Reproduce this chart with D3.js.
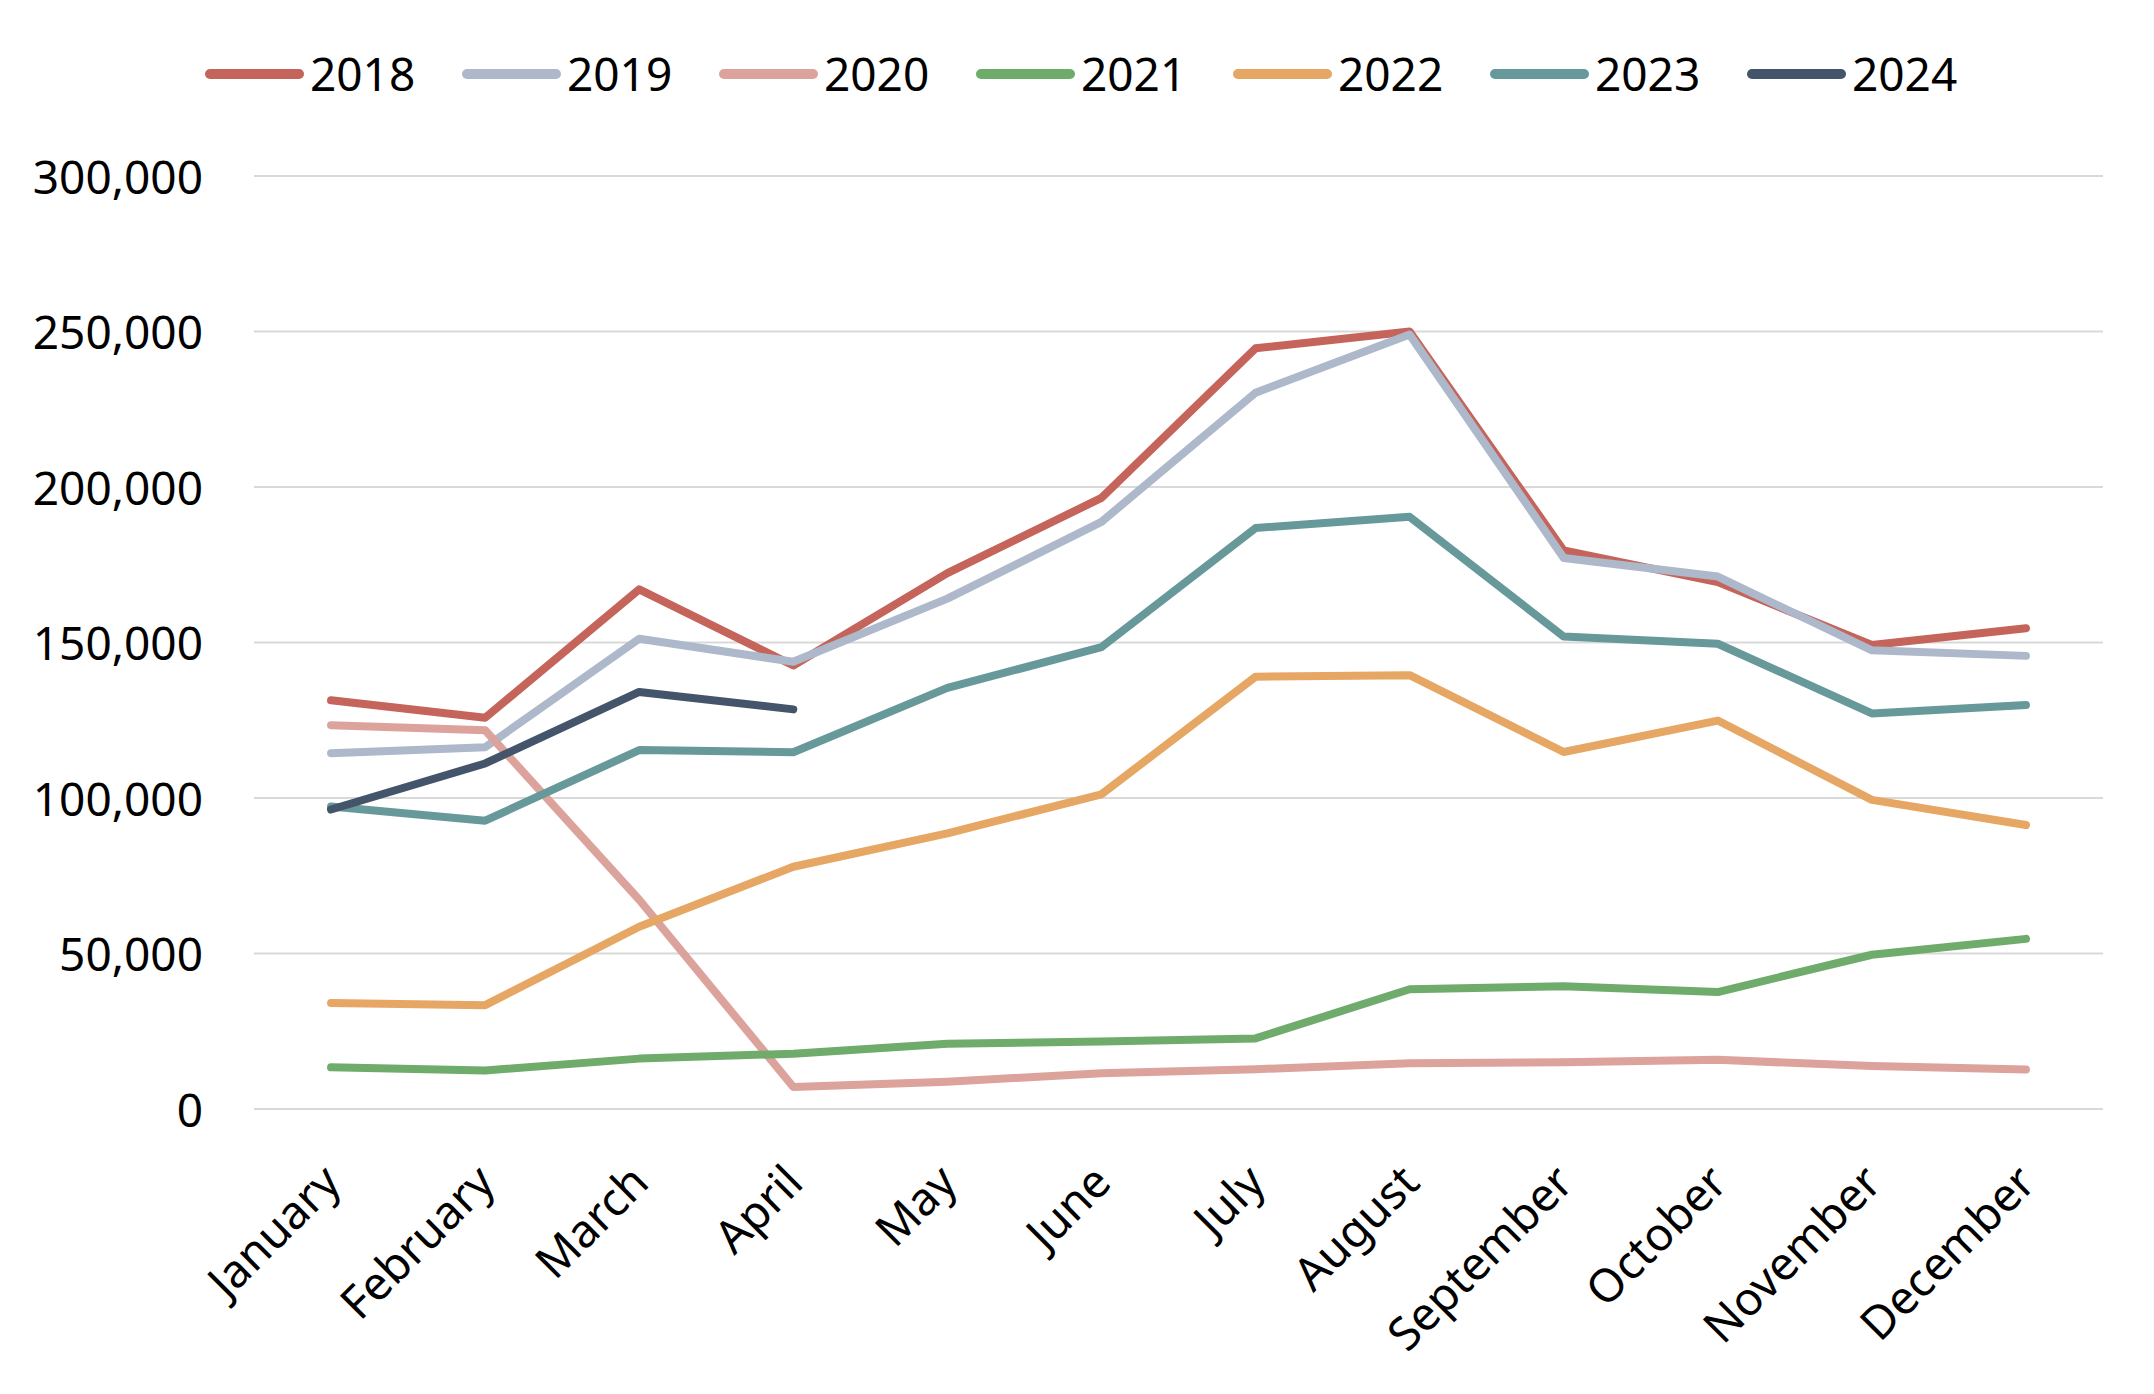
<!DOCTYPE html>
<html>
<head>
<meta charset="utf-8">
<title>Monthly totals 2018-2024</title>
<script src="https://d3js.org/d3.v7.min.js"></script>
<style>
  body { margin: 0; background: #fff; }
  text { font-family: "Noto Sans", "Open Sans", sans-serif; fill: #000; }
</style>
</head>
<body>
<div id="chart"></div>
<script>
const months = ["January", "February", "March", "April", "May", "June", "July",
  "August", "September", "October", "November", "December"];
const years = ["2018", "2019", "2020", "2021", "2022", "2023", "2024"];
const colors = ["#C4645A", "#ADB8CA", "#DCA29C", "#6FAB6B", "#E6A664", "#67999A", "#44546A"];
const yTicks = [0, 50000, 100000, 150000, 200000, 250000, 300000];

const v2018 = [131400, 125800, 167100, 142600, 172300, 196500, 244600, 250000, 179600, 169400, 149200, 154600];
const v2019 = [114400, 116300, 151200, 143800, 164100, 188800, 230300, 249000, 177200, 171200, 147500, 145700];
const v2020 = [123400, 121800, 67300, 7100, 8800, 11500, 12800, 14700, 15000, 15800, 13800, 12700];
const v2021 = [13400, 12400, 16200, 17800, 21000, 21700, 22700, 38500, 39500, 37600, 49600, 54700];
const v2022 = [34100, 33400, 58600, 77900, 88600, 101200, 139000, 139500, 114800, 124900, 99400, 91300];
const v2023 = [97300, 92700, 115400, 114700, 135400, 148500, 186800, 190400, 151900, 149600, 127200, 129900];
const v2024 = [96300, 111100, 134100, 128500];

const series = [v2018, v2019, v2020, v2021, v2022, v2023, v2024];

const W = 2154, H = 1394;
const m = { left: 254, right: 51, top: 176, bottom: 285 };

const svg = d3.select("#chart").append("svg")
  .attr("width", W).attr("height", H);

const x = d3.scaleBand().domain(months).range([m.left, W - m.right]);
const y = d3.scaleLinear().domain([0, 300000]).range([H - m.bottom, m.top]);

// gridlines
svg.append("g")
  .selectAll("line")
  .data(yTicks)
  .join("line")
  .attr("x1", m.left).attr("x2", W - m.right)
  .attr("y1", d => y(d)).attr("y2", d => y(d))
  .attr("stroke", "#D9D9D9").attr("stroke-width", 2);

// y axis
const yAxis = d3.axisLeft(y).tickValues(yTicks).tickSize(0).tickPadding(0)
  .tickFormat(d3.format(","));
svg.append("g")
  .attr("transform", `translate(${203}, 0)`)
  .call(yAxis)
  .call(g => g.select(".domain").remove())
  .selectAll("text")
  .attr("font-size", 46)
  .attr("font-family", "Noto Sans")
  .attr("dy", "0.37em");

// x axis labels, rotated
const xAxis = d3.axisBottom(x).tickSize(0).tickPadding(0);
svg.append("g")
  .attr("transform", `translate(0, ${H - m.bottom})`)
  .call(xAxis)
  .call(g => g.select(".domain").remove())
  .selectAll("text")
  .attr("font-size", 46)
  .attr("font-family", "Noto Sans")
  .attr("text-anchor", "end")
  .attr("y", 0).attr("dy", 0)
  .attr("transform", "translate(12, 76) rotate(-45)");

// lines
const line = d3.line()
  .x((d, i) => x(months[i]) + x.bandwidth() / 2)
  .y(d => y(d));

svg.append("g")
  .selectAll("path")
  .data(series)
  .join("path")
  .attr("d", d => line(d))
  .attr("fill", "none")
  .attr("stroke", (d, i) => colors[i])
  .attr("stroke-width", 8)
  .attr("stroke-linecap", "round")
  .attr("stroke-linejoin", "round");

// legend
const leg = svg.append("g").attr("transform", "translate(210, 74)");
const item = leg.selectAll("g")
  .data(years)
  .join("g")
  .attr("transform", (d, i) => `translate(${i * 257}, 0)`);
item.append("line")
  .attr("x1", 0).attr("x2", 89)
  .attr("stroke", (d, i) => colors[i])
  .attr("stroke-width", 10)
  .attr("stroke-linecap", "round");
item.append("text")
  .attr("x", 100).attr("y", 0).attr("dy", "0.38em")
  .attr("font-size", 46)
  .text(d => d);
</script>
</body>
</html>
